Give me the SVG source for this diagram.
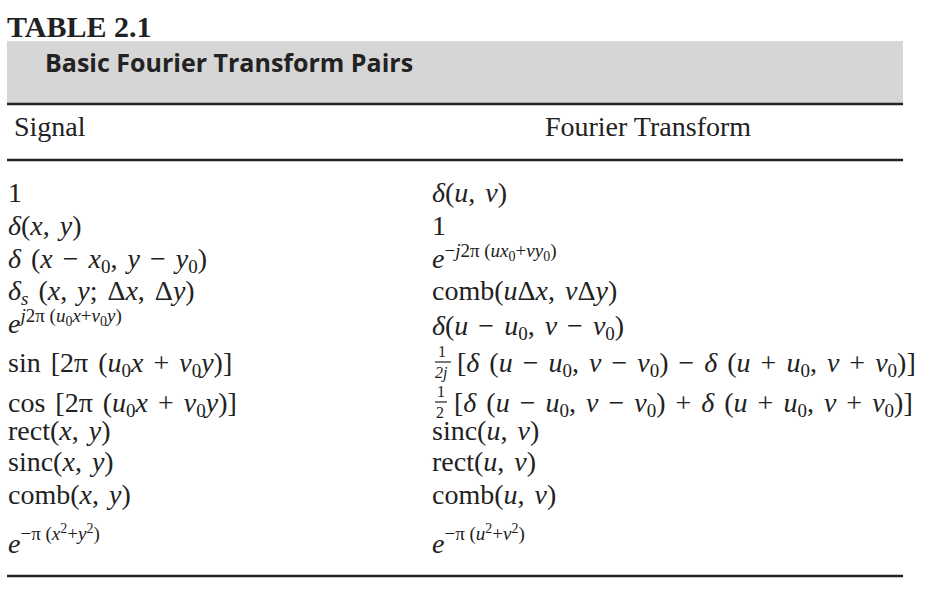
<svg xmlns="http://www.w3.org/2000/svg" width="944" height="600" viewBox="0 0 944 600">
<style>
.t{font-family:"Liberation Serif","DejaVu Serif",serif;font-size:28px;fill:#222}
.f{word-spacing:3px}
.i{font-style:italic}
.s{font-size:19px}
.h{font-family:"Open Sans","Liberation Sans",sans-serif;font-weight:bold;font-size:25px;fill:#222}
.rule{stroke:#222;stroke-width:2.5}
</style>
<rect width="944" height="600" fill="#fff"/>
<g id="title"><text x="7" y="37" class="t" style="font-weight:bold;font-size:30px">TABLE 2.1</text></g>
<g id="header">
<rect x="7" y="41" width="896" height="62" fill="#d6d6d6"/>
<text x="45" y="72" class="h">Basic Fourier Transform Pairs</text>
</g>
<g id="rules">
<line class="rule" x1="7" y1="104" x2="903" y2="104"/>
<line class="rule" x1="7" y1="160" x2="903" y2="160"/>
<line class="rule" x1="7" y1="576" x2="903" y2="576"/>
</g>
<g id="colheads">
<text x="14" y="136" class="t">Signal</text>
<text x="648" y="136" class="t" text-anchor="middle">Fourier Transform</text>
</g>
<g id="left">
<text x="8" y="202" class="t">1</text>
<text x="8" y="235" class="t f"><tspan class="i">δ</tspan>(<tspan class="i">x</tspan>, <tspan class="i">y</tspan>)</text>
<text x="8" y="268" class="t f"><tspan class="i">δ</tspan> (<tspan class="i">x</tspan> − <tspan class="i">x</tspan><tspan class="s" dy="5">0</tspan><tspan dy="-5">, </tspan><tspan class="i">y</tspan> − <tspan class="i">y</tspan><tspan class="s" dy="5">0</tspan><tspan dy="-5">)</tspan></text>
<text x="8" y="300" class="t f"><tspan class="i">δ</tspan><tspan class="s i" dy="5">s</tspan><tspan dy="-5"> (</tspan><tspan class="i">x</tspan>, <tspan class="i">y</tspan>; Δ<tspan class="i">x</tspan>, Δ<tspan class="i">y</tspan>)</text>
<text x="8" y="333" class="t"><tspan class="i">e</tspan><tspan class="s" dy="-11"><tspan class="i">j</tspan>2π (<tspan class="i">u</tspan><tspan dy="4" style="font-size:14px">0</tspan><tspan class="i" dy="-4">x</tspan>+<tspan class="i">v</tspan><tspan dy="4" style="font-size:14px">0</tspan><tspan class="i" dy="-4">y</tspan>)</tspan></text>
<text x="8" y="372" class="t f">sin [2π (<tspan class="i">u</tspan><tspan class="s" dy="5">0</tspan><tspan class="i" dy="-5">x</tspan> + <tspan class="i">v</tspan><tspan class="s" dy="5">0</tspan><tspan class="i" dy="-5">y</tspan>)]</text>
<text x="8" y="412" class="t f">cos [2π (<tspan class="i">u</tspan><tspan class="s" dy="5">0</tspan><tspan class="i" dy="-5">x</tspan> + <tspan class="i">v</tspan><tspan class="s" dy="5">0</tspan><tspan class="i" dy="-5">y</tspan>)]</text>
<text x="8" y="440" class="t f">rect(<tspan class="i">x</tspan>, <tspan class="i">y</tspan>)</text>
<text x="8" y="471" class="t f">sinc(<tspan class="i">x</tspan>, <tspan class="i">y</tspan>)</text>
<text x="8" y="504" class="t f">comb(<tspan class="i">x</tspan>, <tspan class="i">y</tspan>)</text>
<text x="8" y="553" class="t"><tspan class="i">e</tspan><tspan class="s" dy="-13">−π (<tspan class="i">x</tspan><tspan dy="-7" style="font-size:14px">2</tspan><tspan dy="7">+</tspan><tspan class="i">y</tspan><tspan dy="-7" style="font-size:14px">2</tspan><tspan dy="7">)</tspan></tspan></text>
</g>
<g id="right">
<text x="432" y="202" class="t f"><tspan class="i">δ</tspan>(<tspan class="i">u</tspan>, <tspan class="i">v</tspan>)</text>
<text x="432" y="235" class="t">1</text>
<text x="432" y="268" class="t"><tspan class="i">e</tspan><tspan class="s" dy="-11">−<tspan class="i">j</tspan>2π (<tspan class="i">ux</tspan><tspan dy="4" style="font-size:14px">0</tspan><tspan dy="-4">+</tspan><tspan class="i">vy</tspan><tspan dy="4" style="font-size:14px">0</tspan><tspan dy="-4">)</tspan></tspan></text>
<text x="432" y="300" class="t f">comb(<tspan class="i">u</tspan>Δ<tspan class="i">x</tspan>, <tspan class="i">v</tspan>Δ<tspan class="i">y</tspan>)</text>
<text x="432" y="335" class="t f"><tspan class="i">δ</tspan>(<tspan class="i">u</tspan> − <tspan class="i">u</tspan><tspan class="s" dy="5">0</tspan><tspan dy="-5">, </tspan><tspan class="i">v</tspan> − <tspan class="i">v</tspan><tspan class="s" dy="5">0</tspan><tspan dy="-5">)</tspan></text>
<text x="438" y="357" class="t" style="font-size:16px">1</text>
<line x1="435" y1="362" x2="451" y2="362" stroke="#222" stroke-width="1.2"/>
<text x="435" y="378" class="t i" style="font-size:16px">2j</text>
<text x="457" y="372" class="t f">[<tspan class="i">δ</tspan> (<tspan class="i">u</tspan> − <tspan class="i">u</tspan><tspan class="s" dy="5">0</tspan><tspan dy="-5">, </tspan><tspan class="i">v</tspan> − <tspan class="i">v</tspan><tspan class="s" dy="5">0</tspan><tspan dy="-5">) − </tspan><tspan class="i">δ</tspan> (<tspan class="i">u</tspan> + <tspan class="i">u</tspan><tspan class="s" dy="5">0</tspan><tspan dy="-5">, </tspan><tspan class="i">v</tspan> + <tspan class="i">v</tspan><tspan class="s" dy="5">0</tspan><tspan dy="-5">)]</tspan></text>
<text x="437" y="397" class="t" style="font-size:16px">1</text>
<line x1="435" y1="402" x2="447" y2="402" stroke="#222" stroke-width="1.2"/>
<text x="436" y="418" class="t" style="font-size:16px">2</text>
<text x="454" y="412" class="t f">[<tspan class="i">δ</tspan> (<tspan class="i">u</tspan> − <tspan class="i">u</tspan><tspan class="s" dy="5">0</tspan><tspan dy="-5">, </tspan><tspan class="i">v</tspan> − <tspan class="i">v</tspan><tspan class="s" dy="5">0</tspan><tspan dy="-5">) + </tspan><tspan class="i">δ</tspan> (<tspan class="i">u</tspan> + <tspan class="i">u</tspan><tspan class="s" dy="5">0</tspan><tspan dy="-5">, </tspan><tspan class="i">v</tspan> + <tspan class="i">v</tspan><tspan class="s" dy="5">0</tspan><tspan dy="-5">)]</tspan></text>
<text x="432" y="440" class="t f">sinc(<tspan class="i">u</tspan>, <tspan class="i">v</tspan>)</text>
<text x="432" y="471" class="t f">rect(<tspan class="i">u</tspan>, <tspan class="i">v</tspan>)</text>
<text x="432" y="504" class="t f">comb(<tspan class="i">u</tspan>, <tspan class="i">v</tspan>)</text>
<text x="432" y="553" class="t"><tspan class="i">e</tspan><tspan class="s" dy="-13">−π (<tspan class="i">u</tspan><tspan dy="-7" style="font-size:14px">2</tspan><tspan dy="7">+</tspan><tspan class="i">v</tspan><tspan dy="-7" style="font-size:14px">2</tspan><tspan dy="7">)</tspan></tspan></text>
</g>
</svg>
